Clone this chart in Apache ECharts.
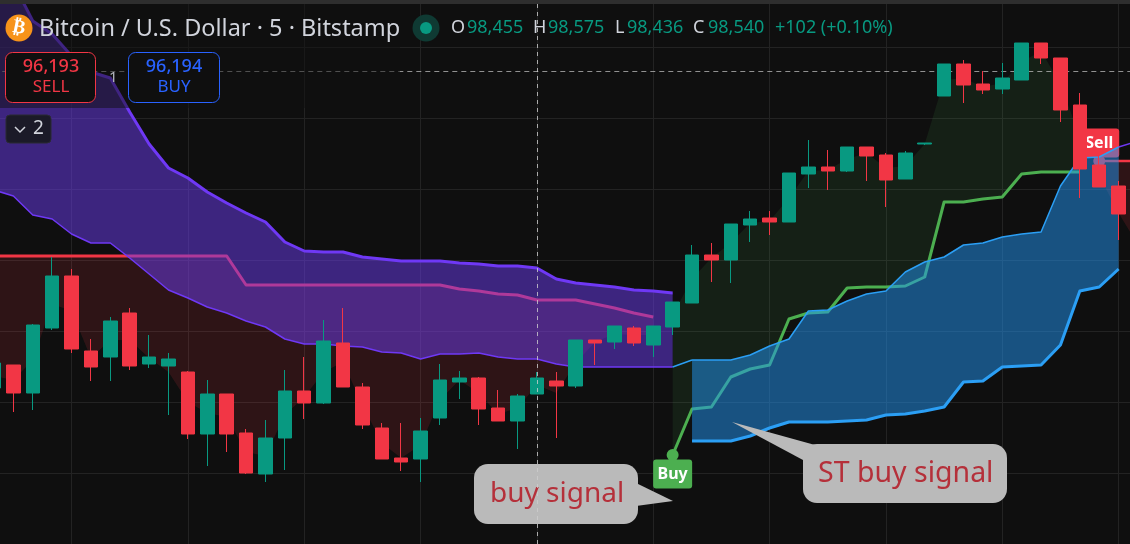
<!DOCTYPE html>
<html><head><meta charset="utf-8">
<style>html,body{margin:0;padding:0;background:#0f0f0f}#c{width:1130px;height:544px}</style>
<script src="https://cdn.jsdelivr.net/npm/echarts@6/dist/echarts.min.js"></script></head>
<body><div id="c"></div>
<script>
const categories = Array.from({length:60},(_,i)=>'T'+i);
// open, close, low, high
const candles = [
[95864,95889,95864,95889],[95887,95859,95840,95887],[95859,95927,95842,95928],[95924,95976,95922,95995],
[95976,95903,95899,95983],[95901,95885,95871,95913],[95895,95931,95871,95935],[95939,95886,95882,95944],
[95888,95895,95884,95917],[95886,95893,95837,95899],[95880,95818,95813,95881],[95818,95858,95786,95872],
[95858,95818,95800,95858],[95819,95779,95778,95823],[95778,95814,95770,95832],[95814,95861,95782,95882],
[95861,95849,95833,95895],[95849,95911,95848,95932],[95909,95865,95865,95944],[95865,95827,95823,95869],
[95824,95793,95793,95829],[95794,95790,95781,95829],[95793,95821,95770,95834],[95834,95872,95827,95888],
[95870,95874,95853,95881],[95874,95843,95827,95875],[95844,95831,95831,95862],[95831,95856,95803,95858],
[95858,95874,95858,95880],[95871,95866,95814,95880],[95866,95912,95864,95912],[95912,95909,95887,95912],
[95910,95926,95903,95926],[95924,95909,95906,95926],[95907,95926,95895,95926],[95925,95950,95917,95950],
[95949,95997,95949,96007],[95997,95992,95970,96009],[95992,96028,95969,96028],[96027,96033,96010,96041],
[96034,96030,96017,96041],[96030,96079,96030,96079],[96078,96085,96064,96112],[96085,96081,96062,96102],
[96081,96105,96080,96105],[96105,96096,96071,96105],[96097,96072,96045,96099],[96073,96099,96073,96101],
[96108,96109,96107,96109],[96156,96188,96156,96188],[96188,96167,96149,96192],[96168,96162,96158,96181],
[96163,96174,96158,96189],[96172,96209,96172,96209],[96209,96194,96188,96209],[96194,96142,96130,96194],
[96147,96083,96054,96159],[96087,96065,96065,96096],[96066,96038,96012,96071]
];
const trailRed = [95996,95996,95996,95996,95996,95996,95996,95996,95996,95996,95996,95996,95996,
95967,95967,95967,95967,95967,95967,95967,95967,95967,95967,95967,95963,95961,95958,95957,95952,95952,95952,95948,95944,95939,95935];
const midRed = [95876,95872,95892,95948,95941,95894,95912,95912,95894,95880,95850,95839,95835,95800,95796,95837,95855,95880,95890,95847,95809,95794,95807,95852,95872,95859,95838,95844,95867,95859,95889,95910,95918,95917,95917];
const trailGreen = [95797,95843,95845,95875,95883,95887,95933,95939,95940,95964,95965,95965,95966,95975,96050,96050,96053,96055,96078,96080,96080,96080];
const midGreen = [95937,95973,95994,96009,96029,96031,96054,96081,96082,96093,96099,96084,96086,96108,96172,96174,96165,96169,96190,96201,96168,96115];
const trailRedEnd = [96091,96091,96091];
const midRedEnd = [96076,96039,96007];
const purpleUpper = [96312,96269,96231,96218,96196,96180,96174,96140,96108,96084,96074,96060,96049,96039,96030,96010,96001,96000,96000,95995,95993,95991,95991,95991,95989,95988,95986,95986,95984,95973,95969,95967,95965,95962,95961,95959];
const purpleLower = [96062,96056,96037,96033,96018,96009,96009,95994,95978,95962,95954,95945,95939,95931,95925,95913,95908,95908,95906,95905,95900,95899,95893,95898,95898,95899,95895,95893,95893,95888,95885,95885,95885,95885,95885,95885];
const blueUpper = [95892,95892,95892,95897,95906,95913,95941,95942,95951,95958,95961,95980,95990,95995,96007,96009,96015,96018,96020,96066,96094,96095,96105];
const blueLower = [95811,95811,95811,95816,95824,95830,95830,95830,95831,95832,95837,95838,95841,95845,95870,95871,95885,95886,95887,95907,95961,95965,95983];
const purpleTail = [96105,96111];
const bridge = [95885,95892];
const priceLine = 96181;
const buyPoint = [35,95797];
const sellPoint = [57,96091];
const crossIndex = 28;
const gridCategories = [4,10,16,22,28,34,40,46,52,58];
const titleText = 'Bitcoin / U.S. Dollar · 5 · Bitstamp';
const ohlcLabels = ['O','H','L','C'];
const ohlcValues = ['98,455','98,575','98,436','98,540'];
const changeText = '+102 (+0.10%)';

const GREEN='#089981', RED='#f23645', TRAILG='#4caf50', PURP='#6f38f5', BLUE='#2b9ff5';
const TAG='path://M3 0H36a3 3 0 0 1 3 3V26a3 3 0 0 1-3 3H3a3 3 0 0 1-3-3V3a3 3 0 0 1 3-3z';
const at=(s,a)=>categories.map((_,i)=>(i>=s&&i<s+a.length)?a[i-s]:null);
function band(name,start,lo,hi,color,z){
  return [
    {type:'line',z,name:name+'b',stack:name,data:at(start,lo),symbol:'none',lineStyle:{opacity:0},silent:true},
    {type:'line',z,name:name+'d',stack:name,data:at(start,hi.map((v,i)=>v-lo[i])),symbol:'none',lineStyle:{opacity:0},areaStyle:{color:color,opacity:1},silent:true}
  ];
}
const line=(start,data,color,w,z)=>({type:'line',z,data:at(start,data),symbol:'none',lineStyle:{color,width:w,cap:'butt',join:'round'},silent:true});

const font='"Noto Sans"';
const txt=(x,y,text,size,color,extra,z)=>({type:'text',z:z||110,style:Object.assign({x,y,text,fill:color,font:size+'px '+font,textAlign:'left',textVerticalAlign:'middle'},extra||{})});
const gfx=[
 {type:'rect',z:100,shape:{x:0,y:4,width:400,height:104},style:{fill:'rgba(15,15,15,0.5)'}},
 {type:'rect',z:105,shape:{x:0,y:0,width:1130,height:4},style:{fill:'#2e2e2e'}},
 {type:'circle',z:110,shape:{cx:19,cy:28,r:13.5},style:{fill:'#f7931a'}},
 {type:'text',z:111,rotation:-0.2,x:19,y:28,style:{x:0,y:0,text:'₿',fill:'#fff',font:'bold 19px "DejaVu Sans"',textAlign:'center',textVerticalAlign:'middle'}},
 txt(39,29,titleText,23.5,'#d1d4dc'),
 {type:'circle',z:110,shape:{cx:426,cy:28,r:13.5},style:{fill:'#0f3a33'}},
 {type:'circle',z:111,shape:{cx:426,cy:28,r:6},style:{fill:GREEN}},
 {type:'rect',z:110,shape:{x:5.5,y:52.5,width:90,height:50,r:7},style:{fill:'#0f0f0f',stroke:RED,lineWidth:1}},
 {type:'rect',z:110,shape:{x:128.5,y:52.5,width:91,height:50,r:7},style:{fill:'#0f0f0f',stroke:'#2962ff',lineWidth:1}},
 txt(51,67,'96,193',18,RED,{textAlign:'center',font:'500 18px '+font}),
 txt(51,87,'SELL',17,RED,{textAlign:'center'}),
 txt(174,67,'96,194',18,'#2962ff',{textAlign:'center',font:'500 18px '+font}),
 txt(174,87,'BUY',17,'#2962ff',{textAlign:'center'}),
 txt(109,78,'1',15,'#b2b5be'),
 {type:'rect',z:110,shape:{x:6,y:115,width:45,height:28,r:4},style:{fill:'#1b1a28',stroke:'#2a2a33'}},
 {type:'polyline',z:111,shape:{points:[[15,127],[20,132],[25,127]]},style:{stroke:'#d1d4dc',lineWidth:1.5,fill:null}},
 txt(33,129,'2',19,'#d1d4dc'),
 // callouts
 {type:'polygon',z:120,shape:{points:[[636,483],[673,501],[636,506]]},style:{fill:'#bababa'}},
 {type:'rect',z:120,shape:{x:474,y:464,width:164,height:60,r:14},style:{fill:'#bababa'}},
 txt(490,494,'buy signal',28,'#b5303a',null,121),
 {type:'polygon',z:120,shape:{points:[[732,422],[815,445],[803,460]]},style:{fill:'#bababa'}},
 {type:'rect',z:120,shape:{x:803,y:444,width:204,height:59,r:14},style:{fill:'#bababa'}},
 txt(818,474,'ST buy signal',28.5,'#b5303a',null,121),
];
// ohlc text
const oX=[451,533,615,693], vX=[467,548,627,708];
ohlcLabels.forEach((l,i)=>{gfx.push(txt(oX[i],28,l,18,'#d1d4dc'));gfx.push(txt(vX[i],28,ohlcValues[i],18,GREEN));});
gfx.push(txt(775,28,changeText,18,GREEN));

const series=[
 {type:'line',z:1,data:[],silent:true,markLine:{silent:true,symbol:'none',label:{show:false},animation:false,z:1,
   lineStyle:{color:'#232323',type:'solid',width:1},data:gridCategories.map(i=>({xAxis:i}))}},
 ...band('redF',0,midRed,trailRed,'rgba(242,54,69,0.14)',2),
 ...band('greenF',35,trailGreen,midGreen,'rgba(76,175,80,0.11)',2),
 ...band('redE',57,midRedEnd,trailRedEnd,'rgba(242,54,69,0.14)',2),
 line(0,trailRed,RED,3,3), line(57,trailRedEnd,RED,2.5,3), line(35,trailGreen,TRAILG,3,3),
 {type:'line',z:3,data:[],silent:true,markLine:{silent:true,symbol:'none',label:{show:false},animation:false,
   lineStyle:{color:'rgba(190,190,190,0.75)',type:[5,4],width:1},data:[{yAxis:priceLine}]}},
 {type:'scatter',z:3,data:[sellPoint],symbol:TAG,symbolKeepAspect:false,symbolSize:[40,29],symbolOffset:[0,-18],itemStyle:{color:RED,opacity:1},silent:true,
   label:{show:true,position:'inside',formatter:'Sell',color:'#fff',fontSize:16,fontWeight:'bold',fontFamily:font}},
 {type:'scatter',z:3,data:[sellPoint],symbol:'circle',symbolSize:12,itemStyle:{color:RED,opacity:1},silent:true},
 ...band('purp',0,purpleLower,purpleUpper,'rgba(108,60,240,0.5)',4),
 ...band('blue',36,blueLower,blueUpper,'rgba(33,150,243,0.5)',4),
 line(0,purpleUpper,PURP,3,5), line(0,purpleLower,PURP,1.5,5),
 line(35,bridge,BLUE,1.5,5), line(58,purpleTail,PURP,1.5,5),
 line(36,blueUpper,BLUE,1.5,5), line(36,blueLower,BLUE,3,5),
 {type:'candlestick',z:6,data:candles,barWidth:14,silent:true,
  itemStyle:{color:GREEN,color0:RED,borderColor:GREEN,borderColor0:RED,borderWidth:1}},
 {type:'scatter',z:7,data:[buyPoint],symbol:'circle',symbolSize:12,itemStyle:{color:TRAILG,opacity:1},silent:true},
 {type:'scatter',z:7,data:[buyPoint],symbol:TAG,symbolKeepAspect:false,symbolSize:[39,29],symbolOffset:[0,19],itemStyle:{color:TRAILG,opacity:1},silent:true,
   label:{show:true,position:'inside',formatter:'Buy',color:'#fff',fontSize:16,fontWeight:'bold',fontFamily:font}},
 {type:'line',data:[],z:200,silent:true,markLine:{silent:true,symbol:'none',label:{show:false},animation:false,z:200,
   lineStyle:{color:'rgba(205,205,205,0.8)',type:[4,4],width:1},data:[{xAxis:crossIndex}]}},
];
const chart=echarts.init(document.getElementById('c'),null,{renderer:'canvas'});
chart.setOption({
 animation:false,backgroundColor:'#0f0f0f',
 grid:{left:-15.7,top:0,width:1163.4,height:544,containLabel:false,outerBoundsMode:'none'},
 xAxis:{type:'category',data:categories,boundaryGap:true,axisLine:{show:false},axisTick:{show:false},axisLabel:{show:false},splitLine:{show:false}},
 yAxis:{type:'value',min:95708,max:96252,interval:71,axisLine:{show:false},axisTick:{show:false},axisLabel:{show:false},
   splitLine:{show:true,lineStyle:{color:'#232323',width:1}}},
 tooltip:{show:false},legend:{show:false},
 series,graphic:{elements:gfx}
});
</script></body></html>
